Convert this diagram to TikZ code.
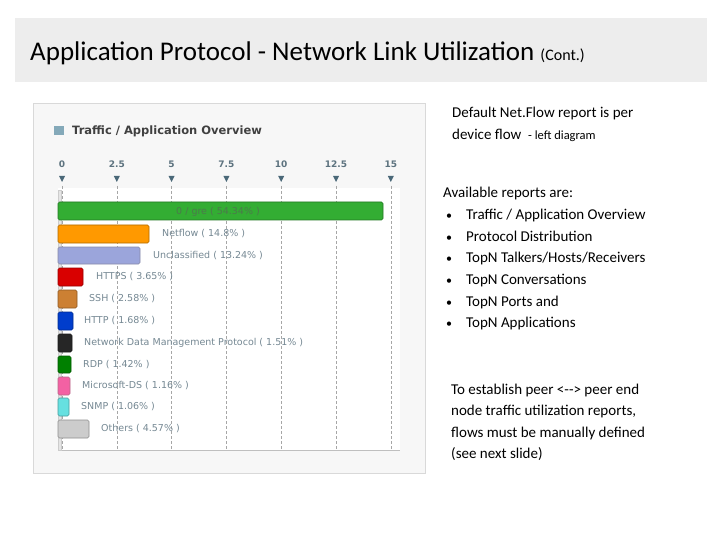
\documentclass[tikz,border=0pt]{standalone}
\usepackage{fontspec}
\setmainfont{Carlito}
\newfontfamily\chartfont{DejaVu Sans}
\colorlet{cgre}{green!60!black!80}
\colorlet{cnet}{orange!80!yellow}
\colorlet{cunc}{cyan!30!blue!40}
\colorlet{chttps}{red!85!black}
\colorlet{cssh}{brown!80!orange}
\colorlet{chttp}{blue!70!cyan!80!black}
\colorlet{cndmp}{black!85}
\colorlet{crdp}{green!50!black}
\colorlet{cmsds}{magenta!50!pink}
\colorlet{csnmp}{teal!40!cyan!60}
\colorlet{coth}{black!20}
\begin{document}
\begin{tikzpicture}[x=1pt,y=-1pt,
  txt/.style={anchor=base west,inner sep=0,font=\fontsize{15}{18}\selectfont,text=black},
  lbl/.style={anchor=west,inner sep=0,font=\chartfont\fontsize{9.5}{10}\selectfont,text=black!45!cyan!40!gray},
  bar/.style={draw=#1!70!black,fill=#1,rounded corners=1.5pt,line width=0.6pt},
  tick/.style={anchor=base,inner sep=0,font=\chartfont\bfseries\fontsize{9}{10}\selectfont,text=cyan!40!black!70!gray}]
\useasboundingbox (0,0) rectangle (720,540);
\fill[white] (0,0) rectangle (720,540);
\fill[black!7] (15,18) rectangle (707,82);
\node[anchor=base west,inner sep=0,font=\fontsize{27}{30}\selectfont] (title) at (30,61)
  {Application Protocol - Network Link Utilization {\fontsize{16}{18}\selectfont(Cont.)}};
% chart panel
\draw[black!15,fill=black!3] (33,103) rectangle (425,473);
\fill[white] (58,188) rectangle (400,450);
\fill[cyan!50!black!60] (54,126) rectangle (64,135);
\node[anchor=west,inner sep=0,font=\chartfont\bfseries\fontsize{11.5}{13}\selectfont,text=black!75] (head) at (72,131) {Traffic / Application Overview};
\foreach \v/\lab [count=\i] in {0/0,1/2.5,2/5,3/7.5,4/10,5/12.5,6/15}{
  \pgfmathsetmacro\xx{62+54.8*\v}
  \node[tick] (t\i) at (\xx,168) {\lab};
  \fill[cyan!40!black] (\xx-3,176) -- (\xx+3,176) -- (\xx,182) -- cycle;
  \draw[black!35,densely dashed,line width=0.4pt] (\xx,186) -- (\xx,450);
}
\draw[black!25] (58,450) -- (400,450);
\draw[black!20,fill=black!10] (58,190) rectangle (61,450);
\draw[bar=cgre] (58,202) rectangle (383,220);
\node[anchor=center,inner sep=0,font=\chartfont\fontsize{9.5}{10}\selectfont,text=green!25!black!70] (l1) at (218,212) {0 / gre ( 54.34\% )};
\foreach \t/\b/\xe/\col/\lx/\name [count=\i] in {
  225/243/149/cnet/162/Netflow ( 14.8\% ),
  247/264/140/cunc/153/Unclassified ( 13.24\% ),
  268/286/83/chttps/96/HTTPS ( 3.65\% ),
  290/308/77/cssh/89/SSH ( 2.58\% ),
  312/330/73/chttp/84/HTTP ( 1.68\% ),
  334/352/72/cndmp/84/Network Data Management Protocol ( 1.51\% ),
  356/373/71/crdp/83/RDP ( 1.42\% ),
  377/395/70/cmsds/82/Microsoft-DS ( 1.16\% ),
  398/416/69/csnmp/81/SNMP ( 1.06\% ),
  420/438/89/coth/101/Others ( 4.57\% )}{
  \draw[bar=\col] (58,\t) rectangle (\xe,\b);
  \node[lbl] (b\i) at (\lx,{(\t+\b)/2}) {\name};
}
% right text
\node[txt] (d1) at (452,118) {Default Net.Flow report is per};
\node[txt] (d2) at (452,140) {device flow \ {\fontsize{12.5}{14}\selectfont - left diagram}};
\node[txt] (a0) at (443,198) {Available reports are:};
\foreach \s [count=\i] in {Traffic / Application Overview,Protocol Distribution,TopN Talkers/Hosts/Receivers,TopN Conversations,TopN Ports and,TopN Applications}{
  \pgfmathsetmacro\yy{198+21.6*\i}
  \node[txt,font=\fontsize{12}{14}\selectfont] (bu\i) at (446,\yy) {•};
  \node[txt] (a\i) at (466,\yy) {\s};
}
\node[txt] (e1) at (451,394) {To establish peer {<}{-}{-}{>} peer end};
\node[txt] (e2) at (451,415.5) {node traffic utilization reports,};
\node[txt] (e3) at (451,437) {flows must be manually defined};
\node[txt] (e4) at (451,458.5) {(see next slide)};
\end{tikzpicture}
\end{document}
